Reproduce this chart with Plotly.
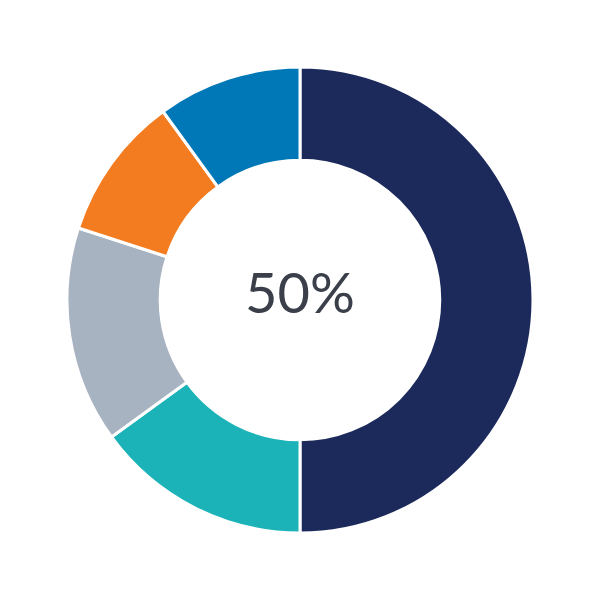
import plotly.graph_objects as go

labels = ["A", "B", "C", "D", "E"]
values = [50, 15, 15, 10, 10]
colors = ["#1b2a5a", "#1bb3b8", "#a8b3c1", "#f47c20", "#0077b6"]
center_text = "50%"

fig = go.Figure(go.Pie(
    labels=labels,
    values=values,
    hole=0.6,
    sort=False,
    direction="clockwise",
    rotation=0,
    marker=dict(colors=colors, line=dict(color="white", width=3)),
    textinfo="none",
    hoverinfo="label+percent",
    showlegend=False,
))

fig.update_layout(
    width=600, height=600,
    margin=dict(l=59, r=75, t=59, b=75),
    paper_bgcolor="white",
    plot_bgcolor="white",
    annotations=[dict(
        text=center_text, x=0.5, y=0.5, xref="paper", yref="paper",
        yshift=9,
        showarrow=False, font=dict(family="Lato", size=56, color="#3a3f4a"),
    )],
)

fig.write_html("out.html")
